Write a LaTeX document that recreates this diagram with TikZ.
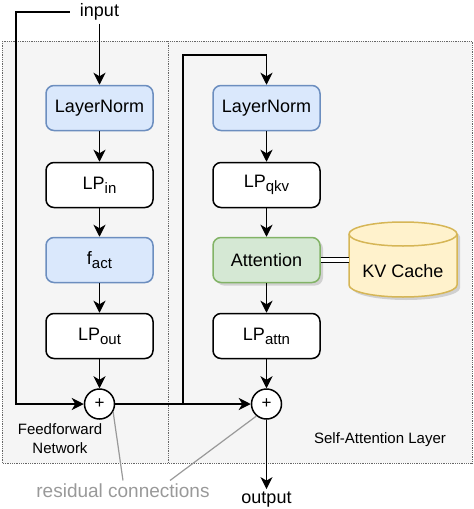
\documentclass[tikz,border=0pt]{standalone}
\usepackage{fontspec}
\setmainfont{Liberation Sans}
\usetikzlibrary{arrows.meta,shadows,positioning}
\definecolor{lnblue}{HTML}{DAE8FC}
\definecolor{lnborder}{HTML}{6C8EBF}
\definecolor{attgreen}{HTML}{D5E8D4}
\definecolor{attborder}{HTML}{82B366}
\definecolor{kvyellow}{HTML}{FFF2CC}
\definecolor{kvborder}{HTML}{D6B656}
\definecolor{panelgray}{HTML}{F5F5F5}
\definecolor{resgray}{HTML}{999999}
\newcommand\lpsub[1]{\raisebox{-0.4ex}{\fontsize{15}{15}\selectfont #1}}

\begin{document}
\begin{tikzpicture}[x=1pt,y=-1pt,
  box/.style={draw,line width=1.5pt,rounded corners=8pt,minimum width=107pt,minimum height=45pt,fill=white,font=\fontsize{18}{20}\selectfont},
  normbox/.style={box,fill=lnblue,draw=lnborder},
  attbox/.style={box,fill=attgreen,draw=attborder,drop shadow={shadow xshift=3pt,shadow yshift=-3pt,opacity=0.3}},
  addop/.style={circle,draw,line width=1.5pt,fill=white,minimum size=30pt,inner sep=0pt,font=\fontsize{17}{17}\selectfont},
  flow/.style={-{Stealth[length=12pt,width=12pt,inset=3.5pt]},line width=1.5pt},
  panel/.style={fill=panelgray,draw=black!60,densely dotted,line width=0.8pt},
  anno/.style={draw=resgray,line width=1.2pt},
  lbl/.style={font=\fontsize{15}{19}\selectfont,align=center}]

  \useasboundingbox (0,0) rectangle (474,509);
  % the two layers
  \draw[panel] (2,41) rectangle (168,463);
  \draw[panel] (168,41) rectangle (472,463);

  % feedforward network
  \node[font=\fontsize{18}{20}\selectfont,inner xsep=10pt,inner ysep=3pt] (in) at (99.5,12) {input};
  \node[normbox] (ln1)   at (99.5,108) {LayerNorm};
  \node[box]     (lpin)  at (99.5,185) {LP\lpsub{in}};
  \node[normbox] (fact)  at (99.5,260) {f\lpsub{act}};
  \node[box]     (lpout) at (99.5,336) {LP\lpsub{out}};
  \node[addop]   (add1)  at (99.5,404) {+};

  % self-attention layer
  \node[normbox] (ln2)    at (266.5,108) {LayerNorm};
  \node[box]     (lpqkv)  at (266.5,185) {LP\lpsub{qkv}};
  \node[attbox]  (attn)   at (266.5,260) {Attention};
  \node[box]     (lpattn) at (266.5,336) {LP\lpsub{attn}};
  \node[addop]   (add2)   at (266.5,404) {+};
  \node[font=\fontsize{18}{20}\selectfont,inner ysep=3pt] (out) at (266.5,500) {output};

  % KV cache cylinder (shadow first)
  \fill[black!40,opacity=0.4,xshift=3pt,yshift=-3pt] (349,234) -- (349,285)
    arc[start angle=180,end angle=0,x radius=54,y radius=12] -- (457,234)
    arc[start angle=0,end angle=-180,x radius=54,y radius=12] -- cycle;
  \draw[fill=kvyellow,draw=kvborder,line width=1.5pt] (349,234) -- (349,285)
    arc[start angle=180,end angle=0,x radius=54,y radius=12] -- (457,234)
    arc[start angle=0,end angle=-180,x radius=54,y radius=12] -- cycle;
  \draw[draw=kvborder,line width=1.5pt] (349,234) arc[start angle=180,end angle=0,x radius=54,y radius=12];
  \node[font=\fontsize{18}{20}\selectfont,minimum width=108pt] (kv) at (403,271) {KV Cache};

  \coordinate (skipL) at (16,404);
  \coordinate (skipR) at (183,404);
  \coordinate (loopT) at (183,55);

  % data flow
  \draw[flow] (in) -- (ln1);
  \draw[flow] (ln1) -- (lpin);
  \draw[flow] (lpin) -- (fact);
  \draw[flow] (fact) -- (lpout);
  \draw[flow] (lpout) -- (add1);
  \draw[flow] (in.west) -| (skipL) -- (add1);
  \draw[flow] (add1) -- (add2);
  \draw[flow] (skipR) -- (loopT) -| (ln2);
  \draw[flow] (ln2) -- (lpqkv);
  \draw[flow] (lpqkv) -- (attn);
  \draw[flow] (attn) -- (lpattn);
  \draw[flow] (lpattn) -- (add2);
  \draw[flow] (add2) -- (out);
  \draw[double,double distance=3.5pt,line width=1.3pt] (attn) -- (attn -| kv.west);

  % labels
  \node[lbl] (ffn) at (60,439) {Feedforward\\Network};
  \node[lbl] (sal) at (380,440) {Self-Attention Layer};
  \node[font=\fontsize{19}{22}\selectfont,text=resgray] (res) at (123,491) {residual connections};
  \draw[anno] (add1.-30) -- (res.north);
  \draw[anno] (add2.-130) -- ([xshift=47pt]res.north);
\end{tikzpicture}
\end{document}
